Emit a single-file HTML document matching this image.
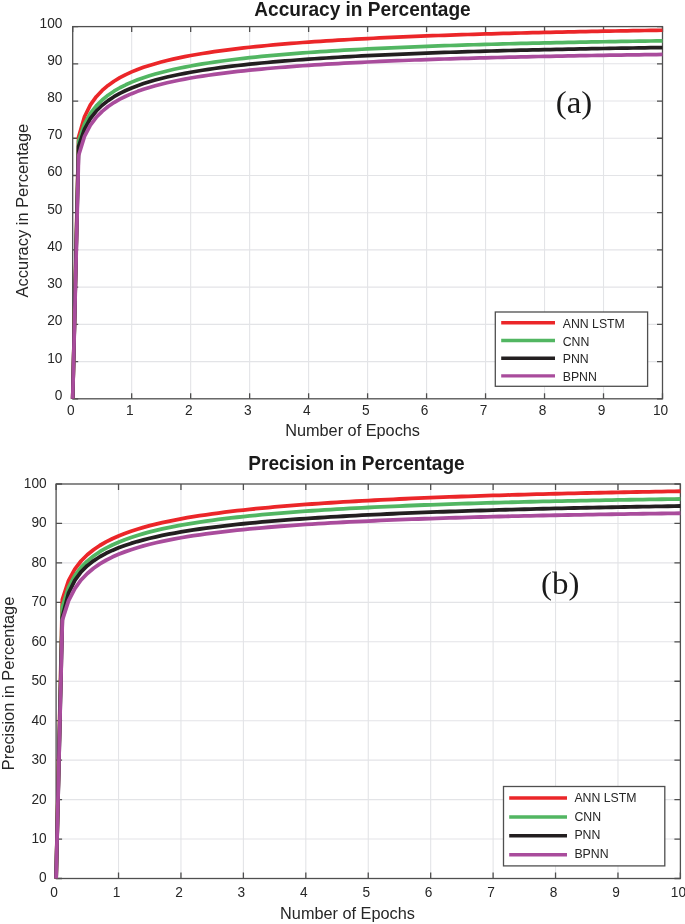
<!DOCTYPE html>
<html><head><meta charset="utf-8"><title>Accuracy and Precision</title>
<style>
html,body{margin:0;padding:0;background:#fff;}
body{width:685px;height:924px;overflow:hidden;}
svg{display:block;}
text{font-family:"Liberation Sans",Arial,Helvetica,sans-serif;fill:#262626;}
.tk{font-size:13.7px;}
.ti{font-size:19.1px;font-weight:bold;fill:#1a1a1a;}
.al{font-size:16.3px;}
.yl{font-size:16.45px;}
.lg{font-size:12.3px;}
.an{font-family:"Liberation Serif","Times New Roman",serif;font-size:31.5px;fill:#1a1a1a;}
</style></head><body>
<svg width="685" height="924" viewBox="0 0 685 924">
<rect width="685" height="924" fill="#fff"/>
<path d="M131.68,26.60V398.80M190.66,26.60V398.80M249.64,26.60V398.80M308.62,26.60V398.80M367.60,26.60V398.80M426.58,26.60V398.80M485.56,26.60V398.80M544.54,26.60V398.80M603.52,26.60V398.80M72.70,361.58H662.50M72.70,324.36H662.50M72.70,287.14H662.50M72.70,249.92H662.50M72.70,212.70H662.50M72.70,175.48H662.50M72.70,138.26H662.50M72.70,101.04H662.50M72.70,63.82H662.50" stroke="#e3e4e7" stroke-width="1.1" fill="none"/>
<path d="M72.70,398.80V393.30M72.70,26.60V32.10M131.68,398.80V393.30M131.68,26.60V32.10M190.66,398.80V393.30M190.66,26.60V32.10M249.64,398.80V393.30M249.64,26.60V32.10M308.62,398.80V393.30M308.62,26.60V32.10M367.60,398.80V393.30M367.60,26.60V32.10M426.58,398.80V393.30M426.58,26.60V32.10M485.56,398.80V393.30M485.56,26.60V32.10M544.54,398.80V393.30M544.54,26.60V32.10M603.52,398.80V393.30M603.52,26.60V32.10M662.50,398.80V393.30M662.50,26.60V32.10M72.70,398.80H78.20M662.50,398.80H657.00M72.70,361.58H78.20M662.50,361.58H657.00M72.70,324.36H78.20M662.50,324.36H657.00M72.70,287.14H78.20M662.50,287.14H657.00M72.70,249.92H78.20M662.50,249.92H657.00M72.70,212.70H78.20M662.50,212.70H657.00M72.70,175.48H78.20M662.50,175.48H657.00M72.70,138.26H78.20M662.50,138.26H657.00M72.70,101.04H78.20M662.50,101.04H657.00M72.70,63.82H78.20M662.50,63.82H657.00M72.70,26.60H78.20M662.50,26.60H657.00" stroke="#4f4f4f" stroke-width="1.3" fill="none"/>
<rect x="72.70" y="26.60" width="589.80" height="372.20" stroke="#4f4f4f" stroke-width="1.3" fill="none"/>
<path d="M72.70,398.80 L78.60,137.05 L84.50,116.76 L90.39,104.94 L96.29,96.69 L102.19,90.42 L108.09,85.39 L113.99,81.22 L119.88,77.68 L125.78,74.61 L131.68,71.91 L137.58,69.52 L143.48,67.36 L149.37,65.42 L155.27,63.65 L161.17,62.02 L167.07,60.52 L172.97,59.14 L178.86,57.85 L184.76,56.65 L190.66,55.53 L196.56,54.48 L202.46,53.49 L208.35,52.56 L214.25,51.68 L220.15,50.85 L226.05,50.06 L231.95,49.31 L237.84,48.59 L243.74,47.91 L249.64,47.26 L255.54,46.64 L261.44,46.05 L267.33,45.48 L273.23,44.94 L279.13,44.42 L285.03,43.92 L290.93,43.44 L296.82,42.97 L302.72,42.53 L308.62,42.10 L314.52,41.68 L320.42,41.28 L326.31,40.90 L332.21,40.53 L338.11,40.17 L344.01,39.82 L349.91,39.48 L355.80,39.15 L361.70,38.84 L367.60,38.53 L373.50,38.24 L379.40,37.95 L385.29,37.67 L391.19,37.40 L397.09,37.14 L402.99,36.88 L408.89,36.63 L414.78,36.39 L420.68,36.16 L426.58,35.93 L432.48,35.71 L438.38,35.49 L444.27,35.28 L450.17,35.08 L456.07,34.88 L461.97,34.68 L467.87,34.49 L473.76,34.31 L479.66,34.13 L485.56,33.95 L491.46,33.78 L497.36,33.62 L503.25,33.45 L509.15,33.30 L515.05,33.14 L520.95,32.99 L526.85,32.84 L532.74,32.70 L538.64,32.56 L544.54,32.42 L550.44,32.29 L556.34,32.16 L562.23,32.03 L568.13,31.90 L574.03,31.78 L579.93,31.66 L585.83,31.54 L591.72,31.43 L597.62,31.32 L603.52,31.21 L609.42,31.10 L615.32,31.00 L621.21,30.90 L627.11,30.80 L633.01,30.70 L638.91,30.60 L644.81,30.51 L650.70,30.42 L656.60,30.33 L662.50,30.24" stroke="#eb2629" stroke-width="3.7" fill="none" stroke-linejoin="round"/>
<path d="M72.70,398.80 L78.60,141.09 L84.50,123.99 L90.39,113.42 L96.29,105.83 L102.19,99.95 L108.09,95.18 L113.99,91.18 L119.88,87.76 L125.78,84.78 L131.68,82.15 L137.58,79.81 L143.48,77.69 L149.37,75.77 L155.27,74.02 L161.17,72.41 L167.07,70.92 L172.97,69.55 L178.86,68.27 L184.76,67.07 L190.66,65.95 L196.56,64.90 L202.46,63.91 L208.35,62.98 L214.25,62.10 L220.15,61.26 L226.05,60.47 L231.95,59.72 L237.84,59.00 L243.74,58.32 L249.64,57.67 L255.54,57.05 L261.44,56.45 L267.33,55.89 L273.23,55.34 L279.13,54.82 L285.03,54.31 L290.93,53.83 L296.82,53.37 L302.72,52.92 L308.62,52.49 L314.52,52.07 L320.42,51.67 L326.31,51.29 L332.21,50.92 L338.11,50.56 L344.01,50.21 L349.91,49.87 L355.80,49.55 L361.70,49.23 L367.60,48.93 L373.50,48.63 L379.40,48.34 L385.29,48.07 L391.19,47.80 L397.09,47.54 L402.99,47.28 L408.89,47.04 L414.78,46.80 L420.68,46.57 L426.58,46.34 L432.48,46.12 L438.38,45.91 L444.27,45.70 L450.17,45.50 L456.07,45.30 L461.97,45.11 L467.87,44.93 L473.76,44.75 L479.66,44.57 L485.56,44.40 L491.46,44.23 L497.36,44.07 L503.25,43.91 L509.15,43.76 L515.05,43.61 L520.95,43.46 L526.85,43.32 L532.74,43.18 L538.64,43.04 L544.54,42.91 L550.44,42.78 L556.34,42.65 L562.23,42.53 L568.13,42.41 L574.03,42.29 L579.93,42.18 L585.83,42.07 L591.72,41.96 L597.62,41.85 L603.52,41.75 L609.42,41.65 L615.32,41.55 L621.21,41.45 L627.11,41.36 L633.01,41.27 L638.91,41.18 L644.81,41.09 L650.70,41.00 L656.60,40.92 L662.50,40.84" stroke="#52b662" stroke-width="3.7" fill="none" stroke-linejoin="round"/>
<path d="M72.70,398.80 L78.60,146.40 L84.50,129.04 L90.39,118.52 L96.29,111.04 L102.19,105.27 L108.09,100.60 L113.99,96.71 L119.88,93.38 L125.78,90.49 L131.68,87.93 L137.58,85.66 L143.48,83.61 L149.37,81.75 L155.27,80.05 L161.17,78.49 L167.07,77.05 L172.97,75.72 L178.86,74.48 L184.76,73.32 L190.66,72.24 L196.56,71.22 L202.46,70.26 L208.35,69.36 L214.25,68.50 L220.15,67.69 L226.05,66.93 L231.95,66.20 L237.84,65.50 L243.74,64.84 L249.64,64.20 L255.54,63.60 L261.44,63.02 L267.33,62.47 L273.23,61.94 L279.13,61.43 L285.03,60.94 L290.93,60.47 L296.82,60.01 L302.72,59.58 L308.62,59.16 L314.52,58.75 L320.42,58.36 L326.31,57.98 L332.21,57.62 L338.11,57.26 L344.01,56.92 L349.91,56.59 L355.80,56.27 L361.70,55.96 L367.60,55.66 L373.50,55.37 L379.40,55.09 L385.29,54.81 L391.19,54.55 L397.09,54.29 L402.99,54.04 L408.89,53.80 L414.78,53.56 L420.68,53.33 L426.58,53.11 L432.48,52.89 L438.38,52.68 L444.27,52.47 L450.17,52.27 L456.07,52.07 L461.97,51.88 L467.87,51.70 L473.76,51.52 L479.66,51.34 L485.56,51.17 L491.46,51.00 L497.36,50.84 L503.25,50.68 L509.15,50.52 L515.05,50.37 L520.95,50.22 L526.85,50.08 L532.74,49.94 L538.64,49.80 L544.54,49.66 L550.44,49.53 L556.34,49.41 L562.23,49.28 L568.13,49.16 L574.03,49.04 L579.93,48.92 L585.83,48.81 L591.72,48.70 L597.62,48.59 L603.52,48.48 L609.42,48.38 L615.32,48.27 L621.21,48.17 L627.11,48.08 L633.01,47.98 L638.91,47.89 L644.81,47.80 L650.70,47.71 L656.60,47.62 L662.50,47.53" stroke="#231f20" stroke-width="3.7" fill="none" stroke-linejoin="round"/>
<path d="M72.70,398.80 L78.60,155.54 L84.50,136.39 L90.39,125.17 L96.29,117.32 L102.19,111.33 L108.09,106.53 L113.99,102.55 L119.88,99.17 L125.78,96.23 L131.68,93.66 L137.58,91.37 L143.48,89.32 L149.37,87.46 L155.27,85.77 L161.17,84.22 L167.07,82.79 L172.97,81.47 L178.86,80.25 L184.76,79.11 L190.66,78.04 L196.56,77.04 L202.46,76.10 L208.35,75.22 L214.25,74.38 L220.15,73.59 L226.05,72.85 L231.95,72.13 L237.84,71.46 L243.74,70.82 L249.64,70.20 L255.54,69.62 L261.44,69.06 L267.33,68.52 L273.23,68.01 L279.13,67.52 L285.03,67.05 L290.93,66.59 L296.82,66.16 L302.72,65.74 L308.62,65.34 L314.52,64.95 L320.42,64.58 L326.31,64.21 L332.21,63.87 L338.11,63.53 L344.01,63.20 L349.91,62.89 L355.80,62.59 L361.70,62.29 L367.60,62.01 L373.50,61.73 L379.40,61.47 L385.29,61.21 L391.19,60.96 L397.09,60.71 L402.99,60.48 L408.89,60.25 L414.78,60.02 L420.68,59.81 L426.58,59.60 L432.48,59.39 L438.38,59.19 L444.27,59.00 L450.17,58.81 L456.07,58.63 L461.97,58.45 L467.87,58.28 L473.76,58.11 L479.66,57.95 L485.56,57.79 L491.46,57.63 L497.36,57.48 L503.25,57.33 L509.15,57.19 L515.05,57.05 L520.95,56.91 L526.85,56.78 L532.74,56.65 L538.64,56.52 L544.54,56.40 L550.44,56.28 L556.34,56.16 L562.23,56.05 L568.13,55.93 L574.03,55.83 L579.93,55.72 L585.83,55.61 L591.72,55.51 L597.62,55.41 L603.52,55.32 L609.42,55.22 L615.32,55.13 L621.21,55.04 L627.11,54.95 L633.01,54.87 L638.91,54.78 L644.81,54.70 L650.70,54.62 L656.60,54.54 L662.50,54.46" stroke="#a94c9c" stroke-width="3.7" fill="none" stroke-linejoin="round"/>
<text transform="translate(62.40,399.80) scale(1.000,1.060)" text-anchor="end" class="tk">0</text>
<text transform="translate(62.40,362.58) scale(1.000,1.060)" text-anchor="end" class="tk">10</text>
<text transform="translate(62.40,325.36) scale(1.000,1.060)" text-anchor="end" class="tk">20</text>
<text transform="translate(62.40,288.14) scale(1.000,1.060)" text-anchor="end" class="tk">30</text>
<text transform="translate(62.40,250.92) scale(1.000,1.060)" text-anchor="end" class="tk">40</text>
<text transform="translate(62.40,213.70) scale(1.000,1.060)" text-anchor="end" class="tk">50</text>
<text transform="translate(62.40,176.48) scale(1.000,1.060)" text-anchor="end" class="tk">60</text>
<text transform="translate(62.40,139.26) scale(1.000,1.060)" text-anchor="end" class="tk">70</text>
<text transform="translate(62.40,102.04) scale(1.000,1.060)" text-anchor="end" class="tk">80</text>
<text transform="translate(62.40,64.82) scale(1.000,1.060)" text-anchor="end" class="tk">90</text>
<text transform="translate(62.40,27.60) scale(1.000,1.060)" text-anchor="end" class="tk">100</text>
<text transform="translate(70.80,414.90) scale(1.000,1.060)" text-anchor="middle" class="tk">0</text>
<text transform="translate(129.78,414.90) scale(1.000,1.060)" text-anchor="middle" class="tk">1</text>
<text transform="translate(188.76,414.90) scale(1.000,1.060)" text-anchor="middle" class="tk">2</text>
<text transform="translate(247.74,414.90) scale(1.000,1.060)" text-anchor="middle" class="tk">3</text>
<text transform="translate(306.72,414.90) scale(1.000,1.060)" text-anchor="middle" class="tk">4</text>
<text transform="translate(365.70,414.90) scale(1.000,1.060)" text-anchor="middle" class="tk">5</text>
<text transform="translate(424.68,414.90) scale(1.000,1.060)" text-anchor="middle" class="tk">6</text>
<text transform="translate(483.66,414.90) scale(1.000,1.060)" text-anchor="middle" class="tk">7</text>
<text transform="translate(542.64,414.90) scale(1.000,1.060)" text-anchor="middle" class="tk">8</text>
<text transform="translate(601.62,414.90) scale(1.000,1.060)" text-anchor="middle" class="tk">9</text>
<text transform="translate(660.60,414.90) scale(1.000,1.060)" text-anchor="middle" class="tk">10</text>
<text transform="translate(362.50,15.80) scale(1.000,1.040)" text-anchor="middle" class="ti">Accuracy in Percentage</text>
<text x="352.60" y="435.60" text-anchor="middle" class="al">Number of Epochs</text>
<text transform="translate(27.90,210.60) rotate(-90)" text-anchor="middle" class="yl">Accuracy in Percentage</text>
<text transform="translate(555.80,112.80) scale(1.045,1.000)" class="an">(a)</text>
<rect x="495.30" y="312.00" width="152.30" height="74.30" fill="#fff" stroke="#4f4f4f" stroke-width="1.3"/>
<path d="M501.20,322.80H555.00" stroke="#eb2629" stroke-width="3.4"/>
<text transform="translate(562.70,328.00) scale(1.000,1.030)" class="lg">ANN LSTM</text>
<path d="M501.20,340.50H555.00" stroke="#52b662" stroke-width="3.4"/>
<text transform="translate(562.70,345.70) scale(1.000,1.030)" class="lg">CNN</text>
<path d="M501.20,358.20H555.00" stroke="#231f20" stroke-width="3.4"/>
<text transform="translate(562.70,363.40) scale(1.000,1.030)" class="lg">PNN</text>
<path d="M501.20,375.90H555.00" stroke="#a94c9c" stroke-width="3.4"/>
<text transform="translate(562.70,381.10) scale(1.000,1.030)" class="lg">BPNN</text>
<path d="M118.53,484.00V878.50M180.96,484.00V878.50M243.39,484.00V878.50M305.82,484.00V878.50M368.25,484.00V878.50M430.68,484.00V878.50M493.11,484.00V878.50M555.54,484.00V878.50M617.97,484.00V878.50M56.10,839.05H680.40M56.10,799.60H680.40M56.10,760.15H680.40M56.10,720.70H680.40M56.10,681.25H680.40M56.10,641.80H680.40M56.10,602.35H680.40M56.10,562.90H680.40M56.10,523.45H680.40" stroke="#e3e4e7" stroke-width="1.1" fill="none"/>
<path d="M56.10,878.50V872.50M56.10,484.00V490.00M118.53,878.50V872.50M118.53,484.00V490.00M180.96,878.50V872.50M180.96,484.00V490.00M243.39,878.50V872.50M243.39,484.00V490.00M305.82,878.50V872.50M305.82,484.00V490.00M368.25,878.50V872.50M368.25,484.00V490.00M430.68,878.50V872.50M430.68,484.00V490.00M493.11,878.50V872.50M493.11,484.00V490.00M555.54,878.50V872.50M555.54,484.00V490.00M617.97,878.50V872.50M617.97,484.00V490.00M680.40,878.50V872.50M680.40,484.00V490.00M56.10,878.50H62.10M680.40,878.50H674.40M56.10,839.05H62.10M680.40,839.05H674.40M56.10,799.60H62.10M680.40,799.60H674.40M56.10,760.15H62.10M680.40,760.15H674.40M56.10,720.70H62.10M680.40,720.70H674.40M56.10,681.25H62.10M680.40,681.25H674.40M56.10,641.80H62.10M680.40,641.80H674.40M56.10,602.35H62.10M680.40,602.35H674.40M56.10,562.90H62.10M680.40,562.90H674.40M56.10,523.45H62.10M680.40,523.45H674.40M56.10,484.00H62.10M680.40,484.00H674.40" stroke="#4f4f4f" stroke-width="1.3" fill="none"/>
<rect x="56.10" y="484.00" width="624.30" height="394.50" stroke="#4f4f4f" stroke-width="1.3" fill="none"/>
<path d="M56.10,878.50 L62.34,599.56 L68.59,580.59 L74.83,569.16 L81.07,561.03 L87.31,554.77 L93.56,549.71 L99.80,545.49 L106.04,541.87 L112.29,538.73 L118.53,535.95 L124.77,533.48 L131.02,531.25 L137.26,529.22 L143.50,527.37 L149.75,525.68 L155.99,524.11 L162.23,522.65 L168.47,521.30 L174.72,520.03 L180.96,518.85 L187.20,517.73 L193.45,516.68 L199.69,515.69 L205.93,514.76 L212.17,513.87 L218.42,513.03 L224.66,512.22 L230.90,511.46 L237.15,510.73 L243.39,510.03 L249.63,509.37 L255.88,508.73 L262.12,508.12 L268.36,507.53 L274.60,506.97 L280.85,506.42 L287.09,505.90 L293.33,505.40 L299.58,504.92 L305.82,504.45 L312.06,504.00 L318.31,503.56 L324.55,503.14 L330.79,502.74 L337.04,502.34 L343.28,501.96 L349.52,501.59 L355.76,501.23 L362.01,500.89 L368.25,500.55 L374.49,500.23 L380.74,499.91 L386.98,499.60 L393.22,499.30 L399.46,499.01 L405.71,498.73 L411.95,498.46 L418.19,498.19 L424.44,497.93 L430.68,497.68 L436.92,497.43 L443.17,497.19 L449.41,496.96 L455.65,496.73 L461.89,496.51 L468.14,496.29 L474.38,496.08 L480.62,495.87 L486.87,495.67 L493.11,495.47 L499.35,495.28 L505.60,495.10 L511.84,494.91 L518.08,494.74 L524.33,494.56 L530.57,494.39 L536.81,494.22 L543.05,494.06 L549.30,493.90 L555.54,493.75 L561.78,493.60 L568.03,493.45 L574.27,493.30 L580.51,493.16 L586.75,493.02 L593.00,492.88 L599.24,492.75 L605.48,492.62 L611.73,492.49 L617.97,492.37 L624.21,492.25 L630.46,492.13 L636.70,492.01 L642.94,491.89 L649.18,491.78 L655.43,491.67 L661.67,491.56 L667.91,491.46 L674.16,491.35 L680.40,491.25" stroke="#eb2629" stroke-width="3.8" fill="none" stroke-linejoin="round"/>
<path d="M56.10,878.50 L62.34,606.97 L68.59,587.41 L74.83,575.72 L81.07,567.45 L87.31,561.10 L93.56,555.99 L99.80,551.73 L106.04,548.10 L112.29,544.94 L118.53,542.17 L124.77,539.69 L131.02,537.47 L137.26,535.45 L143.50,533.62 L149.75,531.93 L155.99,530.38 L162.23,528.94 L168.47,527.60 L174.72,526.35 L180.96,525.19 L187.20,524.09 L193.45,523.06 L199.69,522.09 L205.93,521.17 L212.17,520.31 L218.42,519.48 L224.66,518.70 L230.90,517.96 L237.15,517.25 L243.39,516.57 L249.63,515.92 L255.88,515.31 L262.12,514.71 L268.36,514.15 L274.60,513.60 L280.85,513.08 L287.09,512.58 L293.33,512.10 L299.58,511.63 L305.82,511.19 L312.06,510.76 L318.31,510.34 L324.55,509.94 L330.79,509.55 L337.04,509.18 L343.28,508.81 L349.52,508.46 L355.76,508.13 L362.01,507.80 L368.25,507.48 L374.49,507.17 L380.74,506.87 L386.98,506.58 L393.22,506.30 L399.46,506.03 L405.71,505.77 L411.95,505.51 L418.19,505.26 L424.44,505.02 L430.68,504.78 L436.92,504.55 L443.17,504.33 L449.41,504.11 L455.65,503.90 L461.89,503.70 L468.14,503.50 L474.38,503.30 L480.62,503.11 L486.87,502.93 L493.11,502.75 L499.35,502.57 L505.60,502.40 L511.84,502.24 L518.08,502.07 L524.33,501.92 L530.57,501.76 L536.81,501.61 L543.05,501.46 L549.30,501.32 L555.54,501.18 L561.78,501.04 L568.03,500.91 L574.27,500.78 L580.51,500.65 L586.75,500.53 L593.00,500.41 L599.24,500.29 L605.48,500.17 L611.73,500.06 L617.97,499.95 L624.21,499.84 L630.46,499.74 L636.70,499.64 L642.94,499.53 L649.18,499.44 L655.43,499.34 L661.67,499.25 L667.91,499.15 L674.16,499.07 L680.40,498.98" stroke="#52b662" stroke-width="3.8" fill="none" stroke-linejoin="round"/>
<path d="M56.10,878.50 L62.34,617.13 L68.59,592.98 L74.83,580.32 L81.07,571.91 L87.31,565.68 L93.56,560.78 L99.80,556.75 L106.04,553.34 L112.29,550.40 L118.53,547.81 L124.77,545.50 L131.02,543.43 L137.26,541.55 L143.50,539.83 L149.75,538.25 L155.99,536.80 L162.23,535.45 L168.47,534.19 L174.72,533.02 L180.96,531.92 L187.20,530.89 L193.45,529.92 L199.69,529.00 L205.93,528.13 L212.17,527.31 L218.42,526.52 L224.66,525.78 L230.90,525.07 L237.15,524.39 L243.39,523.75 L249.63,523.13 L255.88,522.54 L262.12,521.97 L268.36,521.42 L274.60,520.90 L280.85,520.39 L287.09,519.91 L293.33,519.44 L299.58,518.99 L305.82,518.55 L312.06,518.13 L318.31,517.73 L324.55,517.33 L330.79,516.95 L337.04,516.59 L343.28,516.23 L349.52,515.88 L355.76,515.55 L362.01,515.22 L368.25,514.91 L374.49,514.60 L380.74,514.31 L386.98,514.02 L393.22,513.74 L399.46,513.46 L405.71,513.20 L411.95,512.94 L418.19,512.69 L424.44,512.44 L430.68,512.20 L436.92,511.97 L443.17,511.74 L449.41,511.52 L455.65,511.30 L461.89,511.09 L468.14,510.89 L474.38,510.69 L480.62,510.49 L486.87,510.30 L493.11,510.11 L499.35,509.93 L505.60,509.75 L511.84,509.57 L518.08,509.40 L524.33,509.24 L530.57,509.07 L536.81,508.91 L543.05,508.76 L549.30,508.60 L555.54,508.46 L561.78,508.31 L568.03,508.17 L574.27,508.02 L580.51,507.89 L586.75,507.75 L593.00,507.62 L599.24,507.49 L605.48,507.36 L611.73,507.24 L617.97,507.12 L624.21,507.00 L630.46,506.88 L636.70,506.77 L642.94,506.65 L649.18,506.54 L655.43,506.44 L661.67,506.33 L667.91,506.23 L674.16,506.12 L680.40,506.02" stroke="#231f20" stroke-width="3.8" fill="none" stroke-linejoin="round"/>
<path d="M56.10,878.50 L62.34,620.08 L68.59,600.56 L74.83,588.51 L81.07,579.98 L87.31,573.45 L93.56,568.23 L99.80,563.91 L106.04,560.26 L112.29,557.10 L118.53,554.34 L124.77,551.89 L131.02,549.69 L137.26,547.72 L143.50,545.92 L149.75,544.27 L155.99,542.76 L162.23,541.37 L168.47,540.07 L174.72,538.87 L180.96,537.75 L187.20,536.69 L193.45,535.71 L199.69,534.78 L205.93,533.90 L212.17,533.07 L218.42,532.29 L224.66,531.55 L230.90,530.84 L237.15,530.17 L243.39,529.53 L249.63,528.92 L255.88,528.34 L262.12,527.78 L268.36,527.25 L274.60,526.74 L280.85,526.25 L287.09,525.78 L293.33,525.32 L299.58,524.89 L305.82,524.47 L312.06,524.07 L318.31,523.68 L324.55,523.31 L330.79,522.95 L337.04,522.60 L343.28,522.26 L349.52,521.94 L355.76,521.62 L362.01,521.32 L368.25,521.03 L374.49,520.74 L380.74,520.47 L386.98,520.20 L393.22,519.94 L399.46,519.69 L405.71,519.45 L411.95,519.21 L418.19,518.98 L424.44,518.76 L430.68,518.54 L436.92,518.33 L443.17,518.13 L449.41,517.93 L455.65,517.74 L461.89,517.55 L468.14,517.36 L474.38,517.19 L480.62,517.01 L486.87,516.85 L493.11,516.68 L499.35,516.52 L505.60,516.37 L511.84,516.21 L518.08,516.07 L524.33,515.92 L530.57,515.78 L536.81,515.65 L543.05,515.51 L549.30,515.38 L555.54,515.26 L561.78,515.13 L568.03,515.01 L574.27,514.89 L580.51,514.78 L586.75,514.67 L593.00,514.56 L599.24,514.45 L605.48,514.35 L611.73,514.25 L617.97,514.15 L624.21,514.05 L630.46,513.96 L636.70,513.86 L642.94,513.77 L649.18,513.68 L655.43,513.60 L661.67,513.51 L667.91,513.43 L674.16,513.35 L680.40,513.27" stroke="#a94c9c" stroke-width="3.8" fill="none" stroke-linejoin="round"/>
<text transform="translate(46.70,882.40) scale(1.000,1.060)" text-anchor="end" class="tk">0</text>
<text transform="translate(46.70,842.95) scale(1.000,1.060)" text-anchor="end" class="tk">10</text>
<text transform="translate(46.70,803.50) scale(1.000,1.060)" text-anchor="end" class="tk">20</text>
<text transform="translate(46.70,764.05) scale(1.000,1.060)" text-anchor="end" class="tk">30</text>
<text transform="translate(46.70,724.60) scale(1.000,1.060)" text-anchor="end" class="tk">40</text>
<text transform="translate(46.70,685.15) scale(1.000,1.060)" text-anchor="end" class="tk">50</text>
<text transform="translate(46.70,645.70) scale(1.000,1.060)" text-anchor="end" class="tk">60</text>
<text transform="translate(46.70,606.25) scale(1.000,1.060)" text-anchor="end" class="tk">70</text>
<text transform="translate(46.70,566.80) scale(1.000,1.060)" text-anchor="end" class="tk">80</text>
<text transform="translate(46.70,527.35) scale(1.000,1.060)" text-anchor="end" class="tk">90</text>
<text transform="translate(46.70,487.90) scale(1.000,1.060)" text-anchor="end" class="tk">100</text>
<text transform="translate(54.10,897.00) scale(1.000,1.060)" text-anchor="middle" class="tk">0</text>
<text transform="translate(116.53,897.00) scale(1.000,1.060)" text-anchor="middle" class="tk">1</text>
<text transform="translate(178.96,897.00) scale(1.000,1.060)" text-anchor="middle" class="tk">2</text>
<text transform="translate(241.39,897.00) scale(1.000,1.060)" text-anchor="middle" class="tk">3</text>
<text transform="translate(303.82,897.00) scale(1.000,1.060)" text-anchor="middle" class="tk">4</text>
<text transform="translate(366.25,897.00) scale(1.000,1.060)" text-anchor="middle" class="tk">5</text>
<text transform="translate(428.68,897.00) scale(1.000,1.060)" text-anchor="middle" class="tk">6</text>
<text transform="translate(491.11,897.00) scale(1.000,1.060)" text-anchor="middle" class="tk">7</text>
<text transform="translate(553.54,897.00) scale(1.000,1.060)" text-anchor="middle" class="tk">8</text>
<text transform="translate(615.97,897.00) scale(1.000,1.060)" text-anchor="middle" class="tk">9</text>
<text transform="translate(678.40,897.00) scale(1.000,1.060)" text-anchor="middle" class="tk">10</text>
<text transform="translate(356.50,470.20) scale(1.000,1.040)" text-anchor="middle" class="ti">Precision in Percentage</text>
<text x="347.50" y="919.20" text-anchor="middle" class="al">Number of Epochs</text>
<text transform="translate(14.00,683.40) rotate(-90)" text-anchor="middle" class="yl">Precision in Percentage</text>
<text transform="translate(541.00,593.50) scale(1.045,1.000)" class="an">(b)</text>
<rect x="503.50" y="786.50" width="161.30" height="79.40" fill="#fff" stroke="#4f4f4f" stroke-width="1.3"/>
<path d="M509.20,798.00H567.00" stroke="#eb2629" stroke-width="3.5"/>
<text transform="translate(574.40,801.60) scale(1.000,1.030)" class="lg">ANN LSTM</text>
<path d="M509.20,816.90H567.00" stroke="#52b662" stroke-width="3.5"/>
<text transform="translate(574.40,820.50) scale(1.000,1.030)" class="lg">CNN</text>
<path d="M509.20,835.80H567.00" stroke="#231f20" stroke-width="3.5"/>
<text transform="translate(574.40,839.40) scale(1.000,1.030)" class="lg">PNN</text>
<path d="M509.20,854.70H567.00" stroke="#a94c9c" stroke-width="3.5"/>
<text transform="translate(574.40,858.30) scale(1.000,1.030)" class="lg">BPNN</text>
</svg>
</body></html>
